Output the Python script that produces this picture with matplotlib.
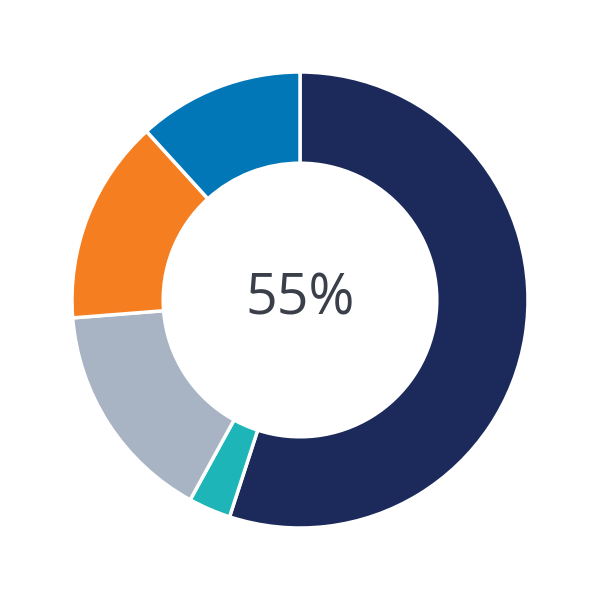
import matplotlib
matplotlib.use('Agg')
import matplotlib.pyplot as plt

labels = ['A', 'B', 'C', 'D', 'E']
values = [55, 3, 15.75, 14.5, 11.75]
colors = ['#1b2a5b', '#1db5b7', '#a8b3c3', '#f47e20', '#0177b7']
center_label = '55%'

fig = plt.figure(figsize=(6, 6), dpi=100)
ax = fig.add_axes([0, 0, 1, 1])
ax.pie(values, colors=colors, startangle=90, counterclock=False,
       wedgeprops=dict(width=0.4, edgecolor='white', linewidth=2.5))
ax.text(0, 0, center_label, ha='center', va='center', fontsize=40,
        family='Open Sans', color='#3a3f4a')
lim = 300 / 228
ax.set_xlim(-lim, lim)
ax.set_ylim(-lim, lim)
ax.set_aspect('equal')
ax.axis('off')
fig.savefig('out.png', dpi=100)
